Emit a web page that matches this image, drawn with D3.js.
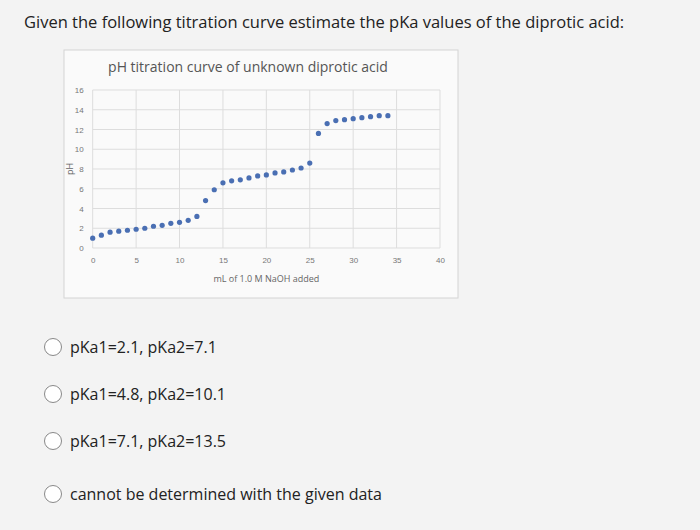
<!DOCTYPE html><html><head><meta charset="utf-8"><script src="https://cdn.jsdelivr.net/npm/d3@7"></script>
<style>body{margin:0;background:#f3f3f3;font-family:"Open Sans",Arial,sans-serif}</style></head><body><svg id="c" width="700" height="530"></svg>
<script>
const volumes=[0,1,2,3,4,5,6,7,8,9,10,11,12,13,14,15,16,17,18,19,20,21,22,23,24,25,26,27,28,29,30,31,32,33,34];
const pH=[1.0,1.3,1.6,1.7,1.8,1.9,2.0,2.2,2.3,2.5,2.6,2.8,3.2,4.8,5.9,6.6,6.8,6.9,7.1,7.3,7.4,7.6,7.7,7.9,8.1,8.6,11.6,12.6,12.9,13.0,13.1,13.2,13.3,13.4,13.4];
const xTicks=[0,5,10,15,20,25,30,35,40];
const yTicks=[0,2,4,6,8,10,12,14,16];
const options=["pKa1=2.1, pKa2=7.1","pKa1=4.8, pKa2=10.1","pKa1=7.1, pKa2=13.5","cannot be determined with the given data"];
const svg=d3.select("#c");
svg.append("text").attr("x",24).attr("y",28).attr("font-size",16.5).attr("fill","#222").text("Given the following titration curve estimate the pKa values of the diprotic acid:");
svg.append("rect").attr("x",64).attr("y",50).attr("width",394).attr("height",248).attr("fill","#fafafa").attr("stroke","#d4d4d4");
svg.append("text").attr("x",248).attr("y",72).attr("text-anchor","middle").attr("font-size",14).attr("fill","#555").text("pH titration curve of unknown diprotic acid");
const x=d3.scaleLinear().domain([0,40]).range([92.7,440]);
const y=d3.scaleLinear().domain([0,16]).range([248,90]);
const g=svg.append("g");
g.selectAll(".gy").data(yTicks).join("line").attr("x1",x(0)).attr("x2",x(40)).attr("y1",d=>y(d)).attr("y2",d=>y(d)).attr("stroke","#ddd");
g.selectAll(".gx").data(xTicks).join("line").attr("y1",y(0)).attr("y2",y(16)).attr("x1",d=>x(d)).attr("x2",d=>x(d)).attr("stroke","#ddd");
const ax=svg.append("g").attr("transform",`translate(0,${y(0)+6})`).call(d3.axisBottom(x).tickValues(xTicks).tickSize(0));
const ay=svg.append("g").attr("transform",`translate(${x(0)-6},0)`).call(d3.axisLeft(y).tickValues(yTicks).tickSize(0));
[ax,ay].forEach(a=>{a.select(".domain").remove();a.selectAll("text").attr("fill","#777").attr("font-size",8);});
svg.append("text").attr("x",x(20)).attr("y",282).attr("text-anchor","middle").attr("font-size",9).attr("fill","#666").text("mL of 1.0 M NaOH added");
svg.append("text").attr("transform",`translate(73,${y(8)}) rotate(-90)`).attr("text-anchor","middle").attr("font-size",9).attr("fill","#666").text("pH");
svg.selectAll(".pt").data(volumes).join("circle").attr("cx",d=>x(d)).attr("cy",(d,i)=>y(pH[i])).attr("r",2.6).attr("fill","#4a6fb3");
const oy=[347,394,441,494];
options.forEach((t,i)=>{
 svg.append("circle").attr("cx",53).attr("cy",oy[i]).attr("r",8.5).attr("fill","#fff").attr("stroke","#888");
 svg.append("text").attr("x",70).attr("y",oy[i]+6).attr("font-size",16).attr("fill","#222").text(t);
});
</script></body></html>
